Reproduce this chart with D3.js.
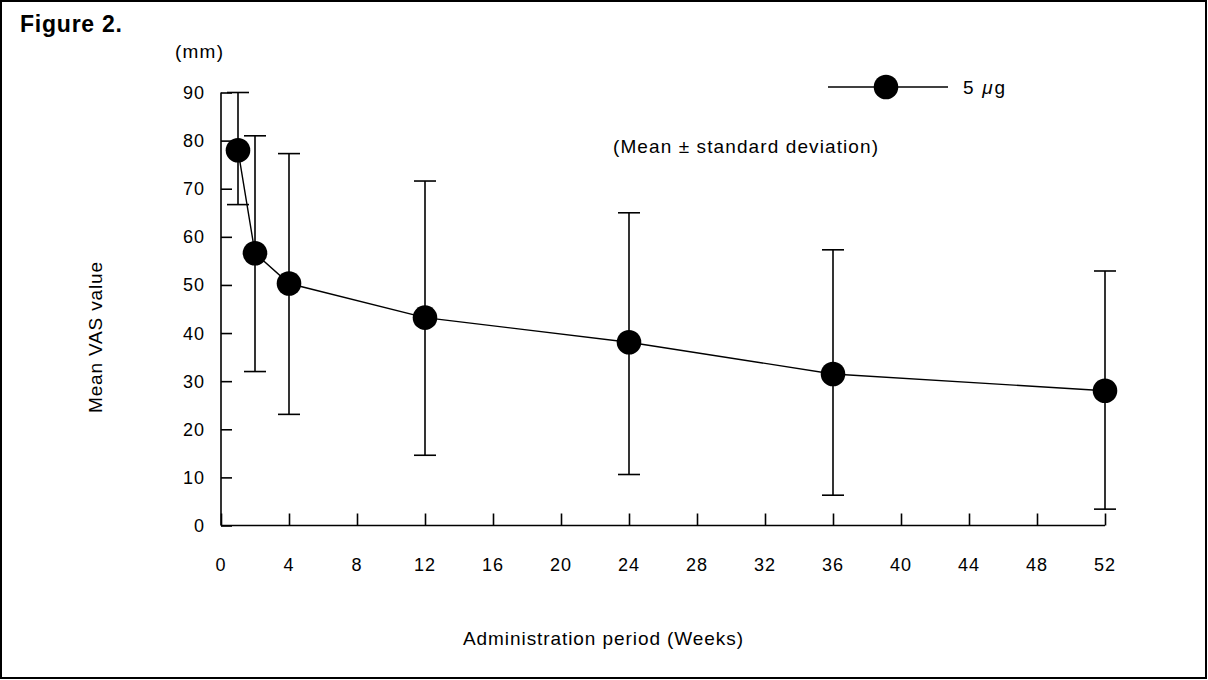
<!DOCTYPE html>
<html><head><meta charset="utf-8">
<script src="https://cdn.jsdelivr.net/npm/d3@7"></script>
<style>body{margin:0;background:#fff;} svg{display:block;} text{font-family:"Liberation Sans",Arial,Helvetica,sans-serif;fill:#000;}</style>
</head><body>
<svg id="c" width="1208" height="680"></svg>
<script>
const weeks = [1, 2, 4, 12, 24, 36, 52];
const meanVAS = [78.0, 56.6, 50.3, 43.2, 38.1, 31.5, 28.0];
const upperSD = [90.0, 81.0, 77.3, 71.6, 65.0, 57.3, 52.9];
const lowerSD = [66.7, 32.0, 23.1, 14.6, 10.6, 6.3, 3.4];
const xTicks = [0, 4, 8, 12, 16, 20, 24, 28, 32, 36, 40, 44, 48, 52];
const yTicks = [0, 10, 20, 30, 40, 50, 60, 70, 80, 90];
const seriesName = "5 μg";

const svg = d3.select("#c");
svg.append("rect").attr("x",1).attr("y",1).attr("width",1205).attr("height",677)
  .attr("fill","none").attr("stroke","#000").attr("stroke-width",2);

const x = d3.scaleLinear().domain([0,52]).range([221,1105]);
const y = d3.scaleLinear().domain([0,90]).range([525.5,92.5]);

// axes
const xa = svg.append("g").attr("transform","translate(0,525.5)")
  .call(d3.axisTop(x).tickValues(xTicks).tickSize(12).tickFormat(""));
const ya = svg.append("g").attr("transform","translate(221,0)")
  .call(d3.axisRight(y).tickValues(yTicks).tickSize(11).tickFormat(""));
[xa,ya].forEach(a=>{a.selectAll("path").attr("stroke","#000").attr("stroke-width",1.6);
  a.selectAll("line").attr("stroke","#000").attr("stroke-width",1.6);});
xa.select(".domain").attr("d","M221,0H1105");
ya.select(".domain").attr("d","M0,525.5V92.5");

svg.append("g").selectAll("text").data(xTicks).join("text")
  .attr("x",d=>x(d)).attr("y",571).attr("text-anchor","middle").attr("font-size",18)
  .attr("letter-spacing","1px").text(d=>d);
svg.append("g").selectAll("text").data(yTicks).join("text")
  .attr("x",205).attr("y",d=>y(d)+6.5).attr("text-anchor","end").attr("font-size",18)
  .attr("letter-spacing","1px").text(d=>d);

// error bars
const eb = svg.append("g").attr("stroke","#000").attr("stroke-width",1.6);
weeks.forEach((w,i)=>{
  eb.append("line").attr("x1",x(w)).attr("x2",x(w)).attr("y1",y(upperSD[i])).attr("y2",y(lowerSD[i]));
  eb.append("line").attr("x1",x(w)-11).attr("x2",x(w)+11).attr("y1",y(upperSD[i])).attr("y2",y(upperSD[i]));
  eb.append("line").attr("x1",x(w)-11).attr("x2",x(w)+11).attr("y1",y(lowerSD[i])).attr("y2",y(lowerSD[i]));
});

// line
const pts = weeks.map((w,i)=>[w,meanVAS[i]]);
svg.append("path").datum(pts).attr("fill","none").attr("stroke","#000").attr("stroke-width",1.4)
  .attr("d",d3.line().x(d=>x(d[0])).y(d=>y(d[1])));
svg.append("g").selectAll("circle").data(pts).join("circle")
  .attr("cx",d=>x(d[0])).attr("cy",d=>y(d[1])).attr("r",12.3).attr("fill","#000");

// legend
svg.append("line").attr("x1",828).attr("x2",948).attr("y1",87).attr("y2",87).attr("stroke","#000").attr("stroke-width",1.4);
svg.append("circle").attr("cx",886).attr("cy",87).attr("r",12.3).attr("fill","#000");
const lt = svg.append("text").attr("x",963).attr("y",94).attr("font-size",19).attr("textLength",42);
lt.append("tspan").text("5 ");
lt.append("tspan").attr("font-style","italic").text("μ");
lt.append("tspan").text("g");

svg.append("text").attr("x",613).attr("y",153).attr("font-size",19)
  .attr("textLength",265).attr("lengthAdjust","spacing").text("(Mean ± standard deviation)");

// titles
svg.append("text").attr("x",20).attr("y",32).attr("font-size",23).attr("font-weight","bold")
  .attr("textLength",102).attr("lengthAdjust","spacing").text("Figure 2.");
svg.append("text").attr("x",175).attr("y",58).attr("font-size",19)
  .attr("textLength",48).attr("lengthAdjust","spacing").text("(mm)");
svg.append("text").attr("transform","translate(102,413) rotate(-90)")
  .attr("font-size",19).attr("textLength",151).attr("lengthAdjust","spacing").text("Mean VAS value");
svg.append("text").attr("x",463).attr("y",645).attr("font-size",19)
  .attr("textLength",280).attr("lengthAdjust","spacing").text("Administration period (Weeks)");
</script>
</body></html>
